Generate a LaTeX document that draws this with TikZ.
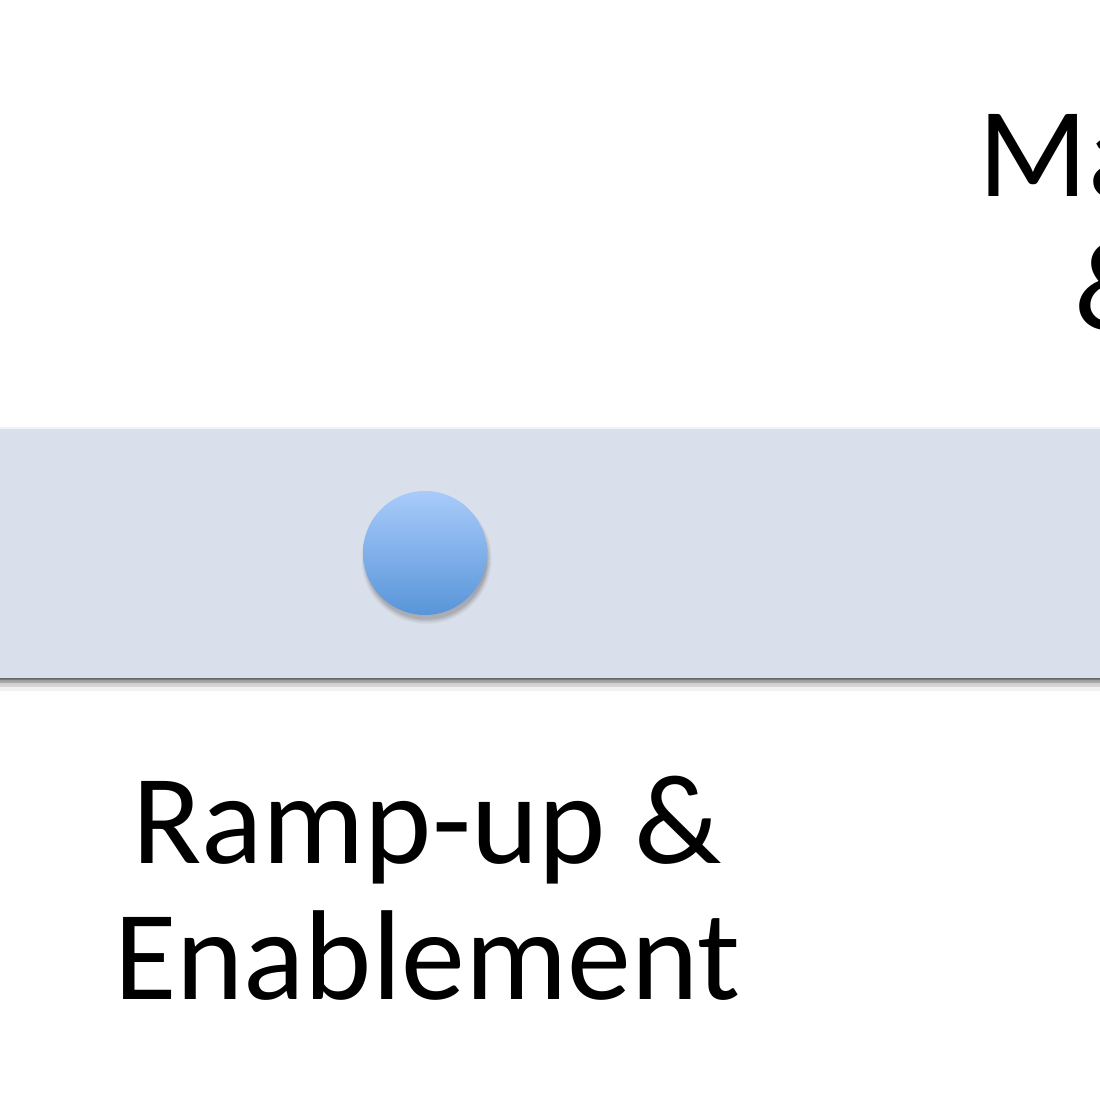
\documentclass[tikz,border=0pt]{standalone}
\usepackage{fontspec}
\setmainfont{Carlito}
\usepackage{xcolor}
\usepackage{tikz}
\usetikzlibrary{positioning}
\definecolor{band}{HTML}{D9DFEB}
\definecolor{dottop}{HTML}{A9CBFA}
\definecolor{dotbot}{HTML}{5895D9}
\definecolor{shade}{HTML}{7F7F7F}

\tikzset{
  phase/.style={font=\fontsize{36.4}{44}\selectfont,text=black,inner sep=0pt},
  milestone/.style={circle,minimum size=1.24cm,inner sep=0pt,top color=dottop,bottom color=dotbot}
}

\begin{document}
\begin{tikzpicture}[x=1cm,y=1cm]
  \useasboundingbox (0,0) rectangle (11,11);
  \clip (0,0) rectangle (11,11);
  % band with soft shadow under it
  \foreach \d/\o in {0.02/.35,0.05/.22,0.09/.12,0.13/.05} {\fill[shade,opacity=\o] (0,4.22-\d) rectangle (11,4.22);}
  \fill[band] (0,4.22) rectangle (11,6.72);
  \draw[white!60!band,line width=.8pt] (0,6.72)--(11,6.72);
  % milestone dot
  \foreach \r/\o in {0.65/.04,0.635/.07,0.62/.1,0.605/.12} {\fill[shade,opacity=\o] (4.265,5.41) circle (\r);}
  \node[milestone] (ramp dot) at (4.25,5.47) {};
  \node[phase,anchor=base] (ramp) at (4.27,2.36) {Ramp-up \&};
  \node[phase,anchor=base] (enable) at (4.27,1.00) {Enablement};
  % next phase, cut off at the right
  \node[phase,anchor=base west] (next) at (9.78,9.03) {Ma};
  \node[phase,anchor=base west] (next amp) at (10.74,7.70) {\&};
\end{tikzpicture}
\end{document}
